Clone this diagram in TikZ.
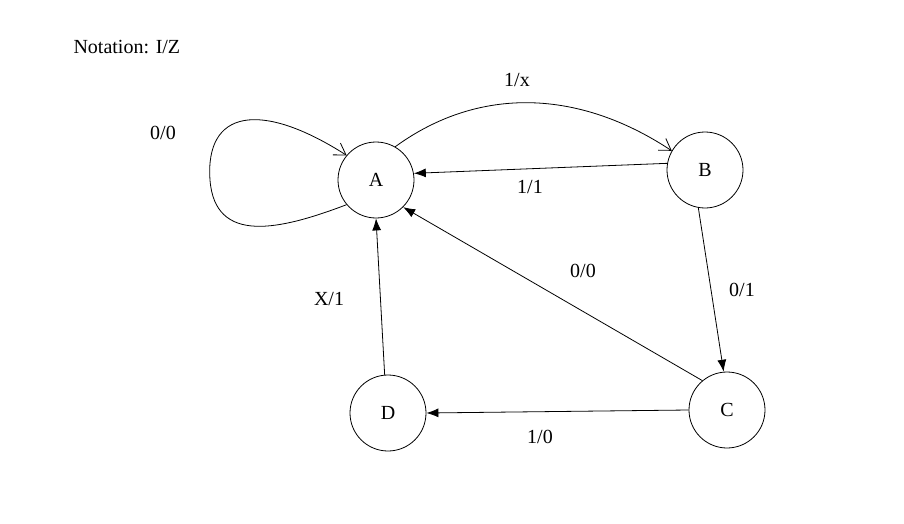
\documentclass[tikz,border=0pt]{standalone}
\usepackage{fontspec}
\setmainfont{Liberation Serif}
\usetikzlibrary{arrows.meta}
\begin{document}
\begin{tikzpicture}[x=1pt,y=-1pt,
  st/.style={circle,draw,thick,minimum size=76pt,inner sep=0pt,font=\fontsize{20}{24}\selectfont},
  lbl/.style={font=\fontsize{20}{24}\selectfont},
  fa/.style={thick,-{Latex[length=12pt,width=9pt]}},
  oa/.style={thick,-{Straight Barb[length=11pt,width=14pt]}}]
\useasboundingbox (0,0) rectangle (904,524);
\node[lbl,anchor=west] (nt) at (70,47) {Notation: I/Z};
\node[st] (A) at (376,180) {A};
\node[st] (B) at (705,170) {B};
\node[st] (C) at (727,410) {C};
\node[st] (D) at (388,413) {D};
\draw[oa] (A.220) .. controls (280,230) and (215,245) .. (210,180) .. controls (205,110) and (260,100) .. (A.140);
\draw[oa] (A.60) .. controls (480,85) and (580,90) .. (B.150);
\draw[fa] (B.170) -- (A.10);
\draw[fa] (B.260) -- (C.95);
\draw[fa] (C.130) -- (A.-45);
\draw[fa] (C.180) -- (D.0);
\draw[fa] (D.95) -- (A.-90);
\node[lbl] (l1) at (517,80) {1/x};
\node[lbl] (l2) at (163,133) {0/0};
\node[lbl] (l3) at (530,187) {1/1};
\node[lbl] (l4) at (583,271) {0/0};
\node[lbl] (l5) at (742,290) {0/1};
\node[lbl] (l6) at (329,299) {X/1};
\node[lbl] (l7) at (540,437) {1/0};
\end{tikzpicture}
\end{document}
